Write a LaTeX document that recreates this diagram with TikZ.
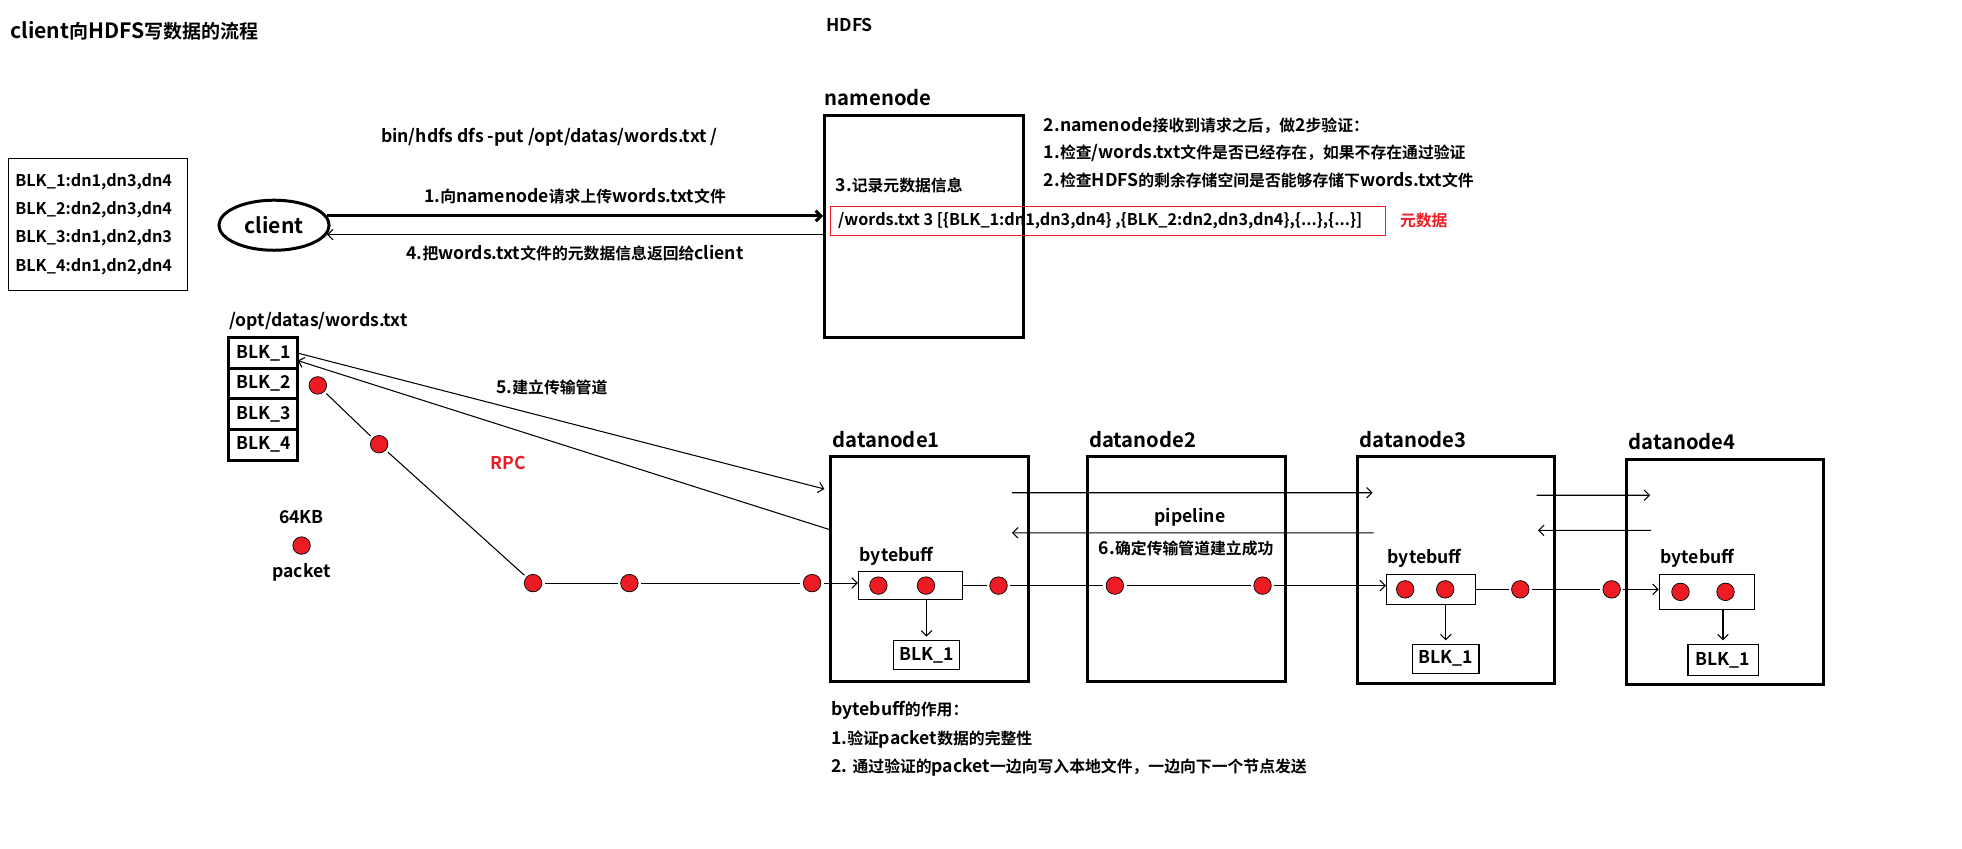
\documentclass[tikz,border=0pt]{standalone}
\usepackage{fontspec}
\setmainfont{Noto Sans CJK SC Bold}
\newfontfamily\cjkfont{Noto Sans CJK SC Bold}[Scale=0.9]
\usepackage{xcolor}
\usetikzlibrary{positioning,shapes.geometric,arrows.meta,fit,calc}
\definecolor{paintred}{RGB}{237,28,36}

% Han characters a little smaller than the Latin ones
\makeatletter
\newXeTeXintercharclass\cjkclass
\@tempcnta="3000
\loop\ifnum\@tempcnta<"A000 \XeTeXcharclass\@tempcnta=\cjkclass \advance\@tempcnta by 1 \repeat
\@tempcnta="FF00
\loop\ifnum\@tempcnta<"FFF0 \XeTeXcharclass\@tempcnta=\cjkclass \advance\@tempcnta by 1 \repeat
\makeatother
\XeTeXinterchartoks 0 \cjkclass = {\cjkfont}
\XeTeXinterchartoks 4095 \cjkclass = {\cjkfont}
\XeTeXinterchartoks \cjkclass 0 = {\rmfamily}
\XeTeXinterchartoks \cjkclass 4095 = {\rmfamily}
\XeTeXinterchartokenstate=1

\tikzset{
  box/.style={draw, line width=1.7pt, inner sep=0pt},
  thinbox/.style={draw, line width=0.6pt, inner sep=0pt},
  blkcell/.style={box, minimum width=1.375cm, minimum height=0.61cm, outer sep=0pt},
  pkt/.style={circle, draw=black, line width=0.4pt, fill=paintred, minimum size=0.35cm},
  link/.style={line width=0.6pt},
  lbl/.style={font=\fontsize{11.5}{13}\selectfont},
  small/.style={font=\fontsize{9.2}{11}\selectfont},
}

\begin{document}
\begin{tikzpicture}[x=0.025cm, y=-0.025cm, inner sep=0pt,
  font=\fontsize{10}{12}\selectfont,
  >={Straight Barb[length=3pt,width=6pt]}]
  \useasboundingbox (0,0) rectangle (1568,678);

  \node[anchor=west, font=\fontsize{12}{14}\selectfont] (title) at (8,25) {client向HDFS写数据的流程};
  \node[anchor=west] (hdfs) at (660,20) {HDFS};

  % namenode
  \node[box, fit={(659,92) (818,270)}] (nn) {};
  \node[lbl, anchor=south west] (nnlbl) at ([xshift=0.03cm, yshift=0.15cm]nn.north west) {namenode};
  \node[draw=paintred, line width=0.6pt, fit={(664,165) (1107,188)}] (meta) {};
  \node[small, anchor=west] (metatxt) at ([xshift=0.15cm]meta.west) {/words.txt 3 [\{BLK\_1:dn1,dn3,dn4\} ,\{BLK\_2:dn2,dn3,dn4\},\{...\},\{...\}]};
  \node[anchor=west, text=paintred] (metalbl) at ([xshift=0.28cm]meta.east) {元数据};
  \node[anchor=west] (record) at ([xshift=0.1cm, yshift=0.71cm]meta.west) {3.记录元数据信息};

  \node[anchor=west] (check0) at (834,100) {2.namenode接收到请求之后，做2步验证：};
  \node[anchor=west] (check1) at (834,122) {1.检查/words.txt文件是否已经存在，如果不存在通过验证};
  \node[anchor=west] (check2) at (834,144) {2.检查HDFS的剩余存储空间是否能够存储下words.txt文件};

  % client
  \node[thinbox, fit={(7,127) (150,232)}] (blkmap) {};
  \node[small, anchor=west] (map1) at (12,145) {BLK\_1:dn1,dn3,dn4};
  \node[small, anchor=west] (map2) at (12,168) {BLK\_2:dn2,dn3,dn4};
  \node[small, anchor=west] (map3) at (12,190) {BLK\_3:dn1,dn2,dn3};
  \node[small, anchor=west] (map4) at (12,213) {BLK\_4:dn1,dn2,dn4};

  \node[draw, ellipse, line width=1.7pt, minimum width=2.2cm, minimum height=1cm,
        font=\fontsize{12}{14}\selectfont] (client) at (219,180) {client};
  \node (cmd) at (439,110) {bin/hdfs dfs -put /opt/datas/words.txt /};

  \draw[->, line width=1.7pt] (client.10) -- (client.10 -| nn.west)
    node[midway, above=0.2cm] (req) {1.向namenode请求上传words.txt文件};
  \draw[->, link] (client.-10 -| nn.west) -- (client.-10)
    node[midway, below=0.2cm] (ret) {4.把words.txt文件的元数据信息返回给client};

  % blocks of the file
  \node[blkcell, anchor=north west] (blk1) at (183,270) {BLK\_1};
  \node[blkcell, below=0pt of blk1] (blk2) {BLK\_2};
  \node[blkcell, below=0pt of blk2] (blk3) {BLK\_3};
  \node[blkcell, below=0pt of blk3] (blk4) {BLK\_4};
  \node[anchor=west] (file) at ([yshift=0.33cm]blk1.north west) {/opt/datas/words.txt};

  % datanodes
  \foreach \i/\xa/\xb/\ya/\yb in {1/664/822/365/545, 2/869/1027/365/545,
                                  3/1085/1242/365/546, 4/1300/1457/367/547} {
    \node[box, fit={(\xa,\ya) (\xb,\yb)}] (dn\i) {};
    \node[lbl, anchor=south west] (dnlbl\i) at ([xshift=0.06cm, yshift=0.15cm]dn\i.north west) {datanode\i};
  }

  % RPC
  \draw[->, link] (blk1.east) -- ([xshift=-0.1cm, yshift=-0.675cm]dn1.north west);
  \draw[->, link] ([xshift=0.05cm, yshift=-1.5cm]dn1.north west) -- ([yshift=-0.15cm]blk1.east);
  \node (setup) at (441,310) {5.建立传输管道};
  \node[text=paintred] (rpc) at (406,370) {RPC};

  % pipeline
  \draw[->, link] ([xshift=-0.36cm, yshift=-0.75cm]dn1.north east) -- ([xshift=0.33cm, yshift=-0.75cm]dn3.north west);
  \draw[->, link] ([xshift=0.35cm, yshift=-1.55cm]dn3.north west) -- ([xshift=-0.36cm, yshift=-1.55cm]dn1.north east);
  \draw[->, link] ([xshift=-0.38cm, yshift=-0.8cm]dn3.north east) -- ([xshift=0.5cm, yshift=-0.75cm]dn4.north west);
  \draw[->, link] ([xshift=0.52cm, yshift=-1.45cm]dn4.north west) -- ([xshift=-0.35cm, yshift=-1.5cm]dn3.north east);
  \node (pipeline) at (951,413) {pipeline};
  \node (confirm) at (948,438) {6.确定传输管道建立成功};

  % bytebuff and stored block
  \node[thinbox, fit={(686,457) (769,479)}] (buf1) {};
  \node[thinbox, fit={(1108,459) (1179,483)}] (buf3) {};
  \node[thinbox, fit={(1326,459) (1402,487)}] (buf4) {};
  \foreach \b in {1,3,4} {
    \node[anchor=south west] (buflbl\b) at ([xshift=0.03cm, yshift=0.12cm]buf\b.north west) {bytebuff};
  }
  \node[thinbox, fit={(714,512) (767,535)}] (st1) {};
  \node[thinbox, fit={(1129,515) (1182,538)}] (st3) {};
  \node[thinbox, fit={(1349,515) (1405,540)}] (st4) {};
  \foreach \b in {1,3,4} {
    \node (stlbl\b) at (st\b) {BLK\_1};
    \draw[->, link, shorten >=2pt] (st\b.north |- buf\b.south) -- (st\b.north);
  }

  % packets
  \node[pkt] (d1) at (254,308) {};
  \node[pkt] (d2) at (303,355) {};
  \node[pkt] (d3) at (426,466) {};
  \node[pkt] (d4) at (503,466) {};
  \node[pkt] (d5) at (649,466) {};
  \node[pkt] (b1a) at (702,468) {};
  \node[pkt] (b1b) at (740,468) {};
  \node[pkt] (o1) at (798,468) {};
  \node[pkt] (o2) at (891,468) {};
  \node[pkt] (o3) at (1009,468) {};
  \node[pkt] (b3a) at (1123,471) {};
  \node[pkt] (b3b) at (1155,471) {};
  \node[pkt] (o4) at (1215,471) {};
  \node[pkt] (o5) at (1288,471) {};
  \node[pkt] (b4a) at (1343,473) {};
  \node[pkt] (b4b) at (1379,473) {};

  \foreach \a/\b in {d1/d2, d2/d3, d3/d4, d4/d5, o1/o2, o2/o3, o4/o5}
    \draw[link, shorten <=1.5pt, shorten >=1.5pt] (\a) -- (\b);
  \draw[->, link, shorten <=1.5pt] (d5) -- (d5 -| buf1.west);
  \draw[link, shorten >=1.5pt] (buf1.east |- o1) -- (o1);
  \draw[->, link, shorten <=1.5pt] (o3) -- (o3 -| buf3.west);
  \draw[link, shorten >=1.5pt] (buf3.east |- o4) -- (o4);
  \draw[->, link, shorten <=1.5pt] (o5) -- (o5 -| buf4.west);

  \node[pkt] (pk) at (241,436) {};
  \node[above=0.25cm of pk] (pksize) {64KB};
  \node[below=0.16cm of pk] (pkname) {packet};

  % notes
  \node[anchor=west] (note0) at (664,568) {bytebuff的作用：};
  \node[anchor=west] (note1) at (664,591) {1.验证packet数据的完整性};
  \node[anchor=west] (note2) at (664,613) {2. 通过验证的packet一边向写入本地文件，一边向下一个节点发送};
\end{tikzpicture}
\end{document}
